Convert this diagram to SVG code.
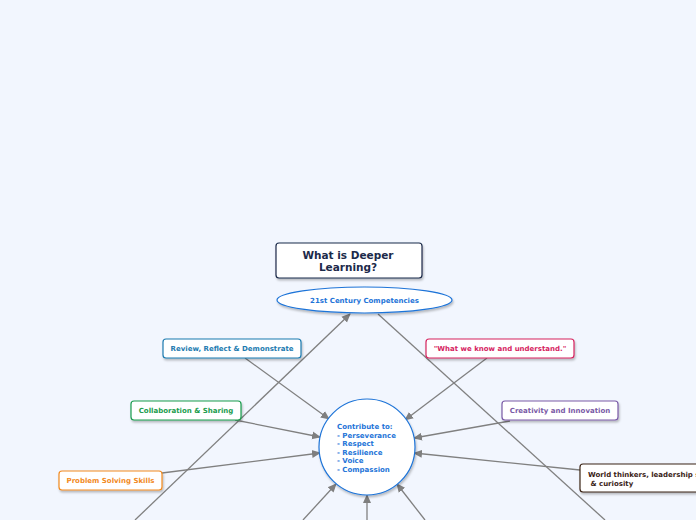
<svg xmlns="http://www.w3.org/2000/svg" width="696" height="520" viewBox="0 0 696 520">
<defs>
<marker id="a" markerWidth="10" markerHeight="10" refX="8" refY="5" orient="auto" markerUnits="userSpaceOnUse"><path d="M0,1 L9,5 L0,9 Z" fill="#7f7f7f"/></marker>
<filter id="sh" x="-20%" y="-20%" width="140%" height="160%"><feDropShadow dx="1" dy="2" stdDeviation="1.2" flood-color="#000" flood-opacity="0.25"/></filter>
</defs>
<style>
text{font-family:"DejaVu Sans",Verdana,sans-serif;font-weight:bold;font-size:7px}
text.t{font-size:10.5px}
.c line{stroke:#808080;stroke-width:1.3;fill:none}
.b{fill:#fff;stroke-width:1.2;filter:url(#sh)}
</style>
<rect width="696" height="520" fill="#f2f6fe"/>
<g class="c">
<line x1="135" y1="520" x2="350" y2="314" marker-end="url(#a)"/>
<line x1="378" y1="314" x2="605" y2="520"/>
<line x1="245" y1="358" x2="329" y2="419" marker-end="url(#a)"/>
<line x1="235" y1="420" x2="320" y2="437" marker-end="url(#a)"/>
<line x1="162" y1="473" x2="320" y2="453" marker-end="url(#a)"/>
<line x1="487" y1="358" x2="405" y2="420" marker-end="url(#a)"/>
<line x1="510" y1="421" x2="414" y2="438" marker-end="url(#a)"/>
<line x1="580" y1="470" x2="414" y2="453" marker-end="url(#a)"/>
<line x1="303" y1="520" x2="336" y2="484" marker-end="url(#a)"/>
<line x1="367" y1="520" x2="367" y2="495" marker-end="url(#a)"/>
<line x1="425" y1="520" x2="397" y2="484" marker-end="url(#a)"/>
</g>
<g id="title"><rect class="b" x="276" y="243" width="146" height="35" rx="3" stroke="#1b2a4a"/>
<text class="t" x="348" y="259" text-anchor="middle" fill="#1b2a4a">What is Deeper</text>
<text class="t" x="348" y="271" text-anchor="middle" fill="#1b2a4a">Learning?</text></g>
<g id="c21"><ellipse class="b" cx="364.5" cy="300" rx="87.5" ry="13" stroke="#1e74d8"/>
<text x="364.5" y="303" text-anchor="middle" fill="#1e74d8">21st Century Competencies</text></g>
<g id="center"><circle class="b" cx="367" cy="447" r="48" stroke="#1e74d8"/>
<text fill="#1e74d8"><tspan x="337" y="429">Contribute to:</tspan><tspan x="337" y="437.5">- Perseverance</tspan><tspan x="337" y="446">- Respect</tspan><tspan x="337" y="454.5">- Resilience</tspan><tspan x="337" y="463">- Voice</tspan><tspan x="337" y="471.5">- Compassion</tspan></text></g>
<g id="review"><rect class="b" x="163" y="339" width="138" height="19" rx="3" stroke="#1d7bb0"/><text x="232" y="351" text-anchor="middle" fill="#1d7bb0">Review, Reflect &amp; Demonstrate</text></g>
<g id="collab"><rect class="b" x="131" y="401" width="110" height="19" rx="3" stroke="#1a9c4d"/><text x="186" y="413" text-anchor="middle" fill="#1a9c4d">Collaboration &amp; Sharing</text></g>
<g id="problem"><rect class="b" x="59" y="471" width="103" height="19" rx="3" stroke="#f28a1e"/><text x="110.5" y="483" text-anchor="middle" fill="#f28a1e">Problem Solving Skills</text></g>
<g id="know"><rect class="b" x="426" y="339" width="148" height="19" rx="3" stroke="#d6245f"/><text x="500" y="351" text-anchor="middle" fill="#d6245f">"What we know and understand."</text></g>
<g id="creat"><rect class="b" x="502" y="401" width="116" height="19" rx="3" stroke="#7a5aa6"/><text x="560" y="413" text-anchor="middle" fill="#7a5aa6">Creativity and Innovation</text></g>
<g id="world"><rect class="b" x="580" y="464" width="130" height="28" rx="3" stroke="#3b2417"/><text fill="#3b2417"><tspan x="588" y="477">World thinkers, leadership skills</tspan><tspan x="588" y="485.5"> &amp; curiosity</tspan></text></g>
</svg>
